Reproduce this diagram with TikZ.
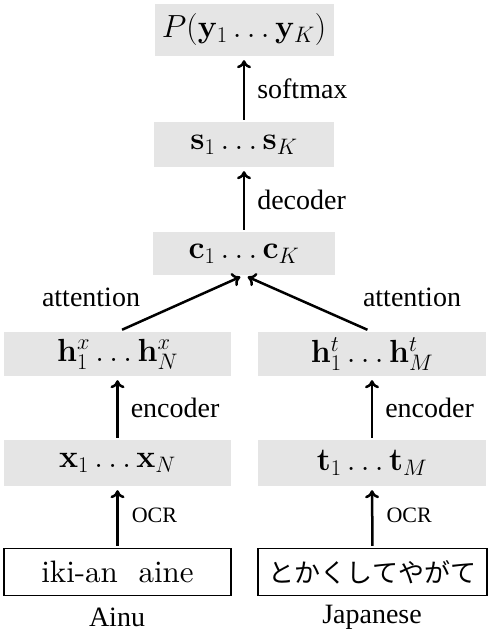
\documentclass[tikz,border=0pt]{standalone}
\usepackage{fix-cm}
\usepackage{amsmath}
\usepackage[no-math]{fontspec}
\setmainfont{Liberation Serif}
\newfontfamily\cjk{Noto Sans CJK JP}
\newfontfamily\lmten{lmroman10-regular.otf}
\usetikzlibrary{arrows.meta}
\begin{document}
\begin{tikzpicture}[x=1pt,y=-1pt,
  gbox/.style={fill=gray!20, inner sep=0pt, minimum width=#1, minimum height=44pt},
  wbox/.style={draw, line width=1.3pt, fill=white, inner sep=0pt, minimum width=#1, minimum height=47pt},
  arr/.style={line width=2.5pt, -{To[length=8pt,width=14pt]}, shorten >=4pt, shorten <=2pt},
  lab/.style={font=\fontsize{28}{30}\selectfont, inner sep=0pt},
  mathf/.style={font=\fontsize{32}{34}\selectfont},
]
\useasboundingbox (0,0) rectangle (488,631);
\node[gbox=179pt, minimum height=52pt, mathf] (P) at (244,30) {$P(\mathbf{y}_1\ldots\mathbf{y}_K)$};
\node[gbox=180pt, minimum height=45pt, mathf] (s) at (244,144.5) {$\mathbf{s}_1\ldots\mathbf{s}_K$};
\node[gbox=182pt, minimum height=43pt, mathf] (c) at (244,253.5) {$\mathbf{c}_1\ldots\mathbf{c}_K$};
\node[gbox=227pt, mathf] (hx) at (117.5,354) {$\mathbf{h}^x_1\ldots\mathbf{h}^x_N$};
\node[gbox=228pt, mathf] (ht) at (372,354) {$\mathbf{h}^t_1\ldots\mathbf{h}^t_M$};
\node[gbox=227pt, minimum height=46pt, mathf] (xx) at (117.5,463) {$\mathbf{x}_1\ldots\mathbf{x}_N$};
\node[gbox=228pt, minimum height=46pt, mathf] (tt) at (372,463) {$\mathbf{t}_1\ldots\mathbf{t}_M$};
\node[wbox=227pt] (ainu) at (117.5,572) {\fontsize{31}{33}\selectfont\lmten iki-an\ \ aine};
\node[wbox=229pt] (jap) at (372.5,572) {\fontsize{26}{28}\selectfont\cjk とかくしてやがて};
\node[lab] (la) at (117,617) {Ainu};
\node[lab] (lj) at (372,617) {Japanese};

\draw[arr] (s.north) -- node[lab, right=12pt, pos=0.5] (l1) {softmax} (P.south);
\draw[arr] (c.north) -- node[lab, right=12pt, pos=0.5] (l2) {decoder} (s.south);
\draw[arr, shorten <=5pt] (hx.north) -- (c.south);
\draw[arr, shorten <=5pt] (ht.north) -- (c.south);
\node[lab] (la1) at (91,297) {attention};
\node[lab] (la2) at (412,297) {attention};
\draw[arr] (xx.north) -- node[lab, right=12pt] (l3) {encoder} (hx.south);
\draw[arr] (tt.north) -- node[lab, right=12pt] (l4) {encoder} (ht.south);
\draw[arr] (ainu.north) -- node[lab, font=\fontsize{22}{24}\selectfont, right=13pt, yshift=2pt] (l5) {OCR} (xx.south);
\draw[arr] (jap.north) -- node[lab, font=\fontsize{22}{24}\selectfont, right=13pt, yshift=2pt] (l6) {OCR} (tt.south);
\end{tikzpicture}
\end{document}
